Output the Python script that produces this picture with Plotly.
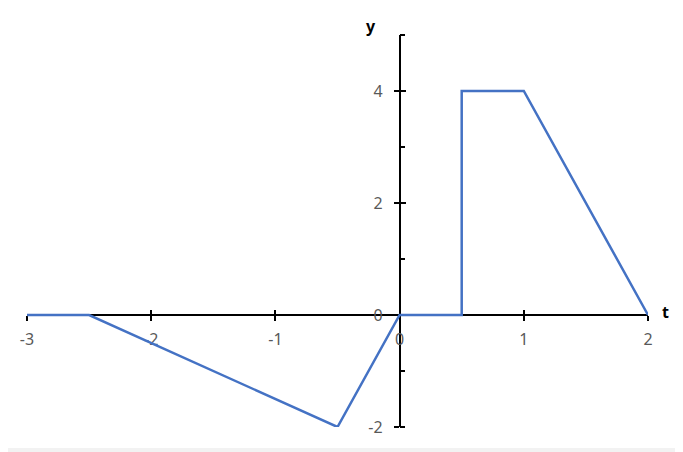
import plotly.graph_objects as go

# piecewise signal y(t)
t_vals = [-3, -2.5, -0.5, 0, 0.5, 0.5, 1, 2]
y_vals = [0, 0, -2, 0, 0, 4, 4, 0]

x_ticks = [-3, -2, -1, 0, 1, 2]
y_ticks = [-2, 0, 2, 4]

x_range = [-3, 2]
y_range = [-2, 5]

W, H = 683, 452
PAGE_OFF = 8  # the page body margin shifts the figure by this much
# plot area in window pixels (left, right, top, bottom)
px_l, px_r, px_t, px_b = 27 - PAGE_OFF, 648 - PAGE_OFF, 35 - PAGE_OFF, 427 - PAGE_OFF
dom_x = [px_l / W, px_r / W]
dom_y = [(H - px_b) / H, (H - px_t) / H]
# where the axes cross (x=0, y=0) in paper coords
y0_paper = dom_y[0] + (0 - y_range[0]) / (y_range[1] - y_range[0]) * (dom_y[1] - dom_y[0])
x0_paper = dom_x[0] + (0 - x_range[0]) / (x_range[1] - x_range[0]) * (dom_x[1] - dom_x[0])

tick_font = dict(family="Noto Sans, Open Sans, sans-serif", size=16, color="#595959")

fig = go.Figure()
fig.add_trace(go.Scatter(
    x=t_vals, y=y_vals, mode="lines",
    line=dict(color="#4472C4", width=2.5),
    showlegend=False, hoverinfo="skip",
))
# second pair of axes only carries the inner half of the crossing ticks
fig.add_trace(go.Scatter(x=[None], y=[None], xaxis="x2", yaxis="y2", showlegend=False))

axis_common = dict(showgrid=False, zeroline=False, layer="below traces", automargin=False)

fig.update_layout(
    width=W, height=H,
    margin=dict(l=0, r=0, t=0, b=0),
    plot_bgcolor="white", paper_bgcolor="white",
    xaxis=dict(
        **axis_common, domain=dom_x, range=x_range, anchor="free", position=y0_paper,
        tickvals=x_ticks, ticktext=[str(v) for v in x_ticks],
        ticks="outside", ticklen=5, tickwidth=2, tickcolor="black",
        showline=True, linecolor="black", linewidth=1.5,
        tickfont=tick_font, ticklabelstandoff=5,
    ),
    yaxis=dict(
        **axis_common, domain=dom_y, range=y_range, anchor="free", position=x0_paper,
        tickvals=y_ticks, ticktext=[str(v) for v in y_ticks],
        ticks="outside", ticklen=5, tickwidth=2, tickcolor="black",
        minor=dict(ticks="inside", dtick=1, ticklen=5, tickwidth=1.5, tickcolor="black"),
        showline=True, linecolor="black", linewidth=1.5,
        tickfont=tick_font, ticklabelstandoff=8,
    ),
    xaxis2=dict(
        **axis_common, domain=dom_x, range=x_range, overlaying="x", anchor="free",
        position=y0_paper, tickvals=x_ticks, ticks="inside", ticklen=5, tickwidth=2,
        tickcolor="black", showticklabels=False, showline=False,
    ),
    yaxis2=dict(
        **axis_common, domain=dom_y, range=y_range, overlaying="y", anchor="free",
        position=x0_paper, tickvals=y_ticks, ticks="inside", ticklen=5, tickwidth=2,
        tickcolor="black", showticklabels=False, showline=False,
    ),
    annotations=[
        dict(x=2, y=0, xref="x", yref="y", text="<b>t</b>", showarrow=False,
             xanchor="left", xshift=12, yshift=3,
             font=dict(family="Noto Sans, sans-serif", size=16, color="black")),
        dict(x=0, y=5, xref="x", yref="y", text="<b>y</b>", showarrow=False,
             xanchor="right", xshift=-22, yshift=9,
             font=dict(family="Noto Sans, sans-serif", size=16, color="black")),
    ],
    shapes=[
        dict(type="rect", xref="paper", yref="paper", x0=0, x1=1,
             y0=(H - (H - PAGE_OFF)) / H, y1=(H - (H - 4 - PAGE_OFF)) / H,
             fillcolor="#f2f2f2", line=dict(width=0), layer="below"),
    ],
)

fig.write_html("out.html")
